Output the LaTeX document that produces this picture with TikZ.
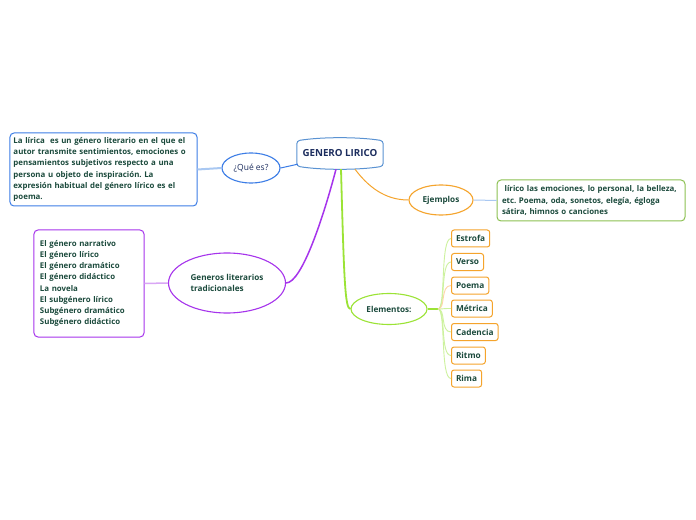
\documentclass[tikz,border=0pt]{standalone}
\usepackage{fontspec}
\setmainfont{Open Sans}
\usetikzlibrary{shapes.geometric,calc}
\definecolor{txt}{HTML}{1B4A3C}
\definecolor{navy}{HTML}{1C2D5E}
\definecolor{qblue}{HTML}{3C7DE6}
\definecolor{cblue}{HTML}{5A92D2}
\definecolor{lblue}{HTML}{A9C8F2}
\definecolor{orng}{HTML}{F5A42C}
\definecolor{grn}{HTML}{8CC152}
\definecolor{lgrn}{HTML}{9BE335}
\definecolor{pale}{HTML}{CDF29E}
\definecolor{peach}{HTML}{FFD3A6}
\definecolor{purp}{HTML}{A634EC}
\definecolor{lpurp}{HTML}{D9A6F5}
\tikzset{
  tbox/.style={draw, rounded corners=4bp, line width=1bp, font=\fontsize{7.9}{11.2}\selectfont\bfseries\frenchspacing, text=txt, align=left, inner sep=0pt},
  ell/.style={ellipse, draw, line width=1.1bp, inner sep=0pt, text=txt},
  leaf/.style={draw=orng, rounded corners=2.5bp, line width=1bp, font=\fontsize{8.3}{9}\selectfont\bfseries, text=txt, anchor=west, minimum height=17bp, inner xsep=4.5bp, inner ysep=0pt},
  link/.style={line width=1bp},
}
\begin{document}
\frenchspacing
\begin{tikzpicture}[x=1bp,y=-1bp]
\useasboundingbox (0,0) rectangle (696,520);
\fill[white] (0,0) rectangle (696,520);

% central node
\node[font=\fontsize{9.8}{11}\selectfont\bfseries, text=navy, minimum width=86bp, minimum height=31bp, inner sep=0pt] (c) at (340,153.5) {GENERO LIRICO};
\draw[cblue, line width=1bp, rounded corners=3bp]
  ($(c.north west)+(0,3)$) .. controls ($(c.north west)+(25,-1)$) and ($(c.north east)+(-25,-1)$) .. ($(c.north east)+(0,3)$)
  -- ($(c.south east)+(0,-3)$) .. controls ($(c.south east)+(-25,1)$) and ($(c.south west)+(25,1)$) .. ($(c.south west)+(0,-3)$) -- cycle;

% Que es
\node[ell, draw=qblue, minimum width=58bp, minimum height=30bp, font=\fontsize{8.5}{10}\selectfont, text=navy] (q) at (251,168) {¿Qué es?};
\node[tbox, draw=qblue, minimum width=187bp, minimum height=73bp, text width=180bp] (qt) at (103.5,169.5) {La lírica\ \ es un género literario en el que el\\autor transmite sentimientos, emociones o\\pensamientos subjetivos respecto a una\\persona u objeto de inspiración. La\\expresión habitual del género lírico es el\\poema.};

% Ejemplos
\node[ell, draw=orng, minimum width=64bp, minimum height=30bp, font=\fontsize{8.2}{10}\selectfont\bfseries] (e) at (441,200) {Ejemplos};
\node[tbox, draw=grn, minimum width=188bp, minimum height=41bp, text width=178bp] (et) at (591,200.5) {\ lírico las emociones, lo personal, la belleza,\\etc. Poema, oda, sonetos, elegía, égloga\\sátira, himnos o canciones};

% Generos
\node[ell, draw=purp, minimum width=117bp, minimum height=60bp, font=\fontsize{8.2}{11}\selectfont\bfseries, align=left] (g) at (227,283) {Generos literarios\\tradicionales};
\node[tbox, draw=purp, minimum width=110bp, minimum height=107bp, text width=98bp] (gt) at (89,283.5) {El género narrativo\\El género lírico\\El género dramático\\El género didáctico\\La novela\\El subgénero lírico\\Subgénero dramático\\Subgénero didáctico};

% Elementos
\node[ell, draw=lgrn, minimum width=76bp, minimum height=31bp, font=\fontsize{8.2}{10}\selectfont\bfseries] (el) at (389,309) {Elementos:};
\coordinate (fan) at (438,309);
\node[leaf] (l1) at (451,238.5) {Estrofa};
\node[leaf] (l2) at (451,262) {Verso};
\node[leaf] (l3) at (451,285.5) {Poema};
\node[leaf] (l4) at (451,308.5) {Métrica};
\node[leaf] (l5) at (451,332) {Cadencia};
\node[leaf] (l6) at (451,355.5) {Ritmo};
\node[leaf] (l7) at (451,378.5) {Rima};

% connectors
\draw[link, qblue] (q.east) -- ($(c.south west)+(1,-5)$);
\draw[lblue, line width=2bp] (qt.east) -- (q.west);
\draw[link, orng] ($(c.south)+(15,0)$) .. controls (372,192) and (390,200) .. (e.west);
\draw[lblue, line width=1bp] (e.east) -- (et.west);
\draw[purp, line width=1.5bp] ($(c.south)+(-4,0)$) .. controls (324,215) and (302,283) .. (g.east);
\draw[lpurp, line width=1.5bp] (gt.east) -- (g.west);
\draw[lgrn, line width=1.8bp] ($(c.south)+(1,0)$) .. controls (344,280) and (345,309) .. (el.west);
\draw[lgrn, line width=1.5bp] (el.east) -- (fan);
\foreach \n in {l1,l2,l4,l5,l6,l7}{
  \draw[pale, line width=0.9bp] (fan) .. controls (446,309) and ($(\n.west)+(-11,0)$) .. (\n.west);
}
\draw[peach, line width=0.9bp] (fan) .. controls (446,309) and ($(l3.west)+(-11,0)$) .. (l3.west);
\end{tikzpicture}
\end{document}
